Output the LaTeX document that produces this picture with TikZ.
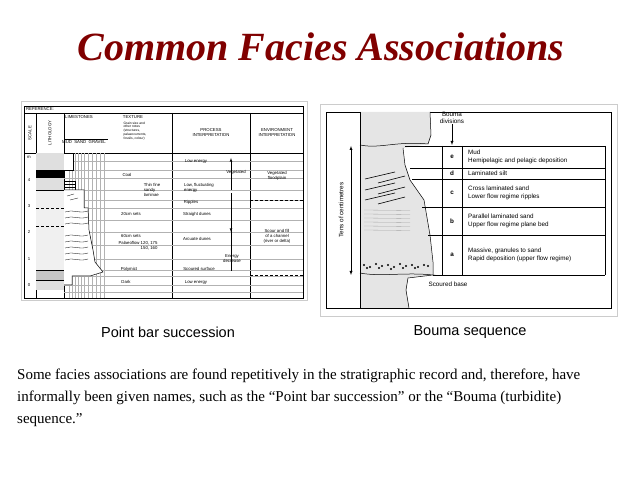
\documentclass[tikz,border=0pt]{standalone}
\usepackage{fontspec}
\setmainfont{Liberation Serif}
\setsansfont{Liberation Sans}
\begin{document}
\begin{tikzpicture}[x=1pt,y=-1pt,
 tiny/.style={font=\sffamily\fontsize{4.3}{5}\selectfont,inner sep=0pt,align=left},
 small/.style={font=\sffamily\fontsize{6.3}{7.6}\selectfont,inner sep=0pt,align=left},
 grid/.style={gray!60,line width=0.2pt},
 frame/.style={black,line width=0.5pt}]
\useasboundingbox (0,0) rectangle (638,478);
\node[font=\bfseries\itshape\fontsize{40}{46}\selectfont,text=red!50!black] (title) at (321,47) {Common Facies Associations};
% ---------- left panel ----------
\draw[gray!40] (21,101) rectangle (307,300);
\draw[frame] (24,106) rectangle (303,298);
\draw[frame] (24,113) -- (303,113) (24,153) -- (303,153);
\draw[frame] (36,113) -- (36,298) (64,113) -- (64,298) (172,113) -- (172,298) (250,113) -- (250,298);
\foreach \y in {161,170,178,190,200,208,220,232,245,259,270,276,285,292} \draw[grid] (64,\y) -- (303,\y);
\foreach \x in {69,72,75,78,81,84,88,92,96,100,104} \draw[grid] (\x,153) -- (\x,298);
\draw[frame] (64,139) -- (108,139);
\node[tiny] (ref) at (40,109.5) {REFERENCE:};
\node[tiny,rotate=90] (scale) at (30,133) {SCALE};
\node[tiny,rotate=90] (lith) at (50,133) {LITHOLOGY};
\node[tiny] (lime) at (79,117) {LIMESTONES};
\node[tiny] (mud) at (84,142.5) {MUD \ SAND \ GRAVEL};
\node[tiny] (tex) at (133,117) {TEXTURE};
\node[tiny,font=\sffamily\fontsize{3.3}{3.9}\selectfont] (texd) at (135,131) {Grain size and\\other notes\\(structures,\\palaeocurrents,\\fossils, colour)};
\node[tiny,align=center] (proc) at (211,133) {PROCESS\\INTERPRETATION};
\node[tiny,align=center] (envh) at (277,133) {ENVIRONMENT\\INTERPRETATION};
\foreach \t/\y in {m/157,4/180,3/206,2/232,1/259,0/285} \node[tiny] at (29,\y) {\t};
% lithology
\fill[gray!25] (36,153) rectangle (64,170);
\fill[black] (36,170) rectangle (64,178);
\fill[gray!25] (36,178) rectangle (64,190);
\fill[gray!12] (36,190) rectangle (64,270);
\fill[gray!45] (36,270) rectangle (64,280);
\fill[gray!25] (36,280) rectangle (64,290);
\draw[frame] (36,170) -- (64,170) (36,190) -- (64,190) (36,270)--(64,270) (36,280)--(64,280);
\draw[frame,densely dashed] (36,208) -- (64,208) (36,226) -- (64,226);
% grain size profile
\fill[white] (64,153) -- (73,153) -- (73,170) -- (64,170) -- cycle;
\draw[frame] (64,153) -- (73,153) -- (73,170) -- (64,170);
\draw[frame] (64,181) -- (75,181) (64,184) -- (75,184) (64,187) -- (75,187) (75,181) -- (75,190);
\draw[frame,fill=white] (64,190) -- (84,190) -- (84,208) -- (88,208) -- (89,230) -- (93,250) -- (95,262) -- (103,272) -- (90,276) -- (72,276) -- (72,285) -- (64,285);
\foreach \y in {212,218,224,236,242,248,254,260} \draw[line width=0.3pt] (65,\y) .. controls (72,\y-3) and (80,\y+2) .. (88,\y-1);
\draw[line width=0.3pt] (67,196) -- (74,194) (70,200) -- (78,198);
\node[tiny] (coal) at (127,175) {Coal};
\node[tiny] (thin) at (152,190) {Thin fine\\sandy\\laminae};
\node[tiny] (s20) at (131,214) {20cm sets};
\node[tiny] (s60) at (131,236) {60cm sets};
\node[tiny,align=right] (pal) at (138,245.5) {Palaeoflow 120, 175\\150, 160};
\node[tiny] (poly) at (129,269) {Polymict};
\node[tiny] (dark) at (126,282) {Dark};
\node[tiny] (le1) at (196,161) {Low energy};
\node[tiny] (lf) at (199,187.5) {Low, fluctuating\\energy};
\node[tiny] (rip) at (191,202) {Ripples};
\node[tiny] (sd) at (197,214) {Straight dunes};
\node[tiny] (ad) at (197,239) {Arcuate dunes};
\node[tiny] (ss) at (199,269) {Scoured surface};
\node[tiny] (le2) at (196,282) {Low energy};
\node[tiny] (veg) at (236,172) {Vegetated};
\node[tiny,align=center] (en) at (232,259) {Energy\\decrease};
\coordinate (a1) at (231,158); \coordinate (a2) at (231,190);
\coordinate (a3) at (231,193); \coordinate (a4) at (231,271);
\draw[line width=0.3pt,-latex] (a2) -- (a1);
\draw[line width=0.3pt] (a3) -- (a4);
\draw[line width=0.3pt,-latex] (231,230) -- (231,232);
\node[tiny,align=center] (vf) at (277,176) {Vegetated\\floodplain};
\node[tiny,align=center] (sf) at (277,236.5) {Scour and fill\\of a channel\\(river or delta)};
\draw[frame,densely dashed] (250,200) -- (303,200) (250,275) -- (303,275);
% ---------- right panel ----------
\draw[gray!40] (320,104) rectangle (617,316);
\draw[frame] (326,112) rectangle (611,308);
\fill[gray!20] (360,112) -- (430,112) -- (431,135) -- (428,144) .. controls (418,146) and (410,147) .. (403,148) -- (405,165) -- (410,180) -- (424,200) -- (430,235) -- (433,262) -- (433,275) .. controls (420,277) and (412,277) .. (408,278) -- (406,290) -- (409,308) -- (360,308) -- cycle;
\draw[frame] (360,112) -- (360,308);
\draw[frame] (430,112) -- (431,135) -- (428,144) .. controls (395,141) and (380,149) .. (360,145);
\draw[frame] (403,148) -- (405,165) -- (410,180) -- (424,200) -- (430,235) -- (433,262) -- (433,275);
\draw[frame] (360,273) .. controls (380,277) and (405,272) .. (433,275) -- (408,278) -- (406,290) -- (409,308);
\foreach \y in {210,214,218,222,226,230} \draw[gray!70,line width=0.3pt] (364,\y) -- (410,\y+0.5);
\foreach \y in {175,186,196} {\draw[line width=0.6pt] (365,\y+4) -- (395,\y-3); \draw[line width=0.6pt] (378,\y+8) -- (405,\y+1);}
\foreach \x/\dy in {364/0,370/2,376/-1,382/1,388/0,394/2,400/-1,406/1,412/0,418/2,424/0,428/1,367/3,379/3,391/4,403/3,415/3}
  \fill (\x,265+\dy) circle (1.1pt);
\draw[frame] (405,146) -- (605,146) (410,168) -- (605,168) (412,179) -- (605,179) (422,207) -- (605,207) (428,235) -- (605,235) (433,275) -- (605,275);
\draw[frame] (605,146) -- (605,275) (442,146) -- (442,275) (462,146) -- (462,275);
\node[small,align=center] (bd) at (452,118) {Bouma\\divisions};
\draw[line width=0.4pt,-latex] (bd) -- (452,145);
\foreach \l/\y in {e/157,d/173.5,c/193,b/221,a/255} \node[small,font=\sffamily\bfseries\fontsize{6.3}{7.6}\selectfont] at (452,\y) {\l};
\node[small,anchor=west] (te) at (468,157) {Mud\\[1pt]Hemipelagic and pelagic deposition};
\node[small,anchor=west] (td) at (468,173.5) {Laminated silt};
\node[small,anchor=west] (tc) at (468,193) {Cross laminated sand\\[1pt]Lower flow regime ripples};
\node[small,anchor=west] (tb) at (468,221) {Parallel laminated sand\\[1pt]Upper flow regime plane bed};
\node[small,anchor=west] (ta) at (468,255) {Massive, granules to sand\\[1pt]Rapid deposition (upper flow regime)};
\node[small,rotate=90] (tens) at (341,210) {Tens of centimetres};
\draw[line width=0.4pt,latex-latex] (351,146) -- (351,275);
\node[small] (sb) at (448,284) {Scoured base};
% captions and text
\node[font=\sffamily\fontsize{14.5}{17}\selectfont] (c1) at (168,332) {Point bar succession};
\node[font=\sffamily\fontsize{14.5}{17}\selectfont] (c2) at (470,332) {Bouma sequence};
\node[font=\fontsize{15}{22}\selectfont,anchor=north west,inner sep=0pt,align=left] (body) at (17,369) {Some facies associations are found repetitively in the stratigraphic record and, therefore, have\\informally been given names, such as the “Point bar succession” or the “Bouma (turbidite)\\sequence.”};
\end{tikzpicture}
\end{document}
